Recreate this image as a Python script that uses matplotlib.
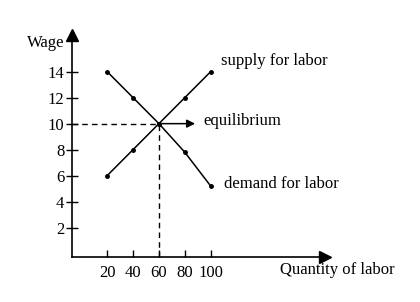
import matplotlib
matplotlib.use("Agg")
import matplotlib.pyplot as plt

plt.rcParams['font.family'] = ['Liberation Serif', 'DejaVu Serif']
plt.rcParams['font.size'] = 12

# labour market data
quantity = [20, 40, 60, 80, 100]
supply = [6, 8, 10, 12, 14]
demand = [14, 12, 10, 7.8, 5.2]
eq_q, eq_w = 60, 10
y_ticks = [2, 4, 6, 8, 10, 12, 14]

fig = plt.figure(figsize=(4.2, 3.02), dpi=100)
ax = fig.add_axes([72/420, 45/302, 253/420, 222/302])
ax.set_xlim(-7, 188)
ax.set_ylim(-0.23, 16.8)

for s in ['top', 'right']:
    ax.spines[s].set_visible(False)
for s in ['left', 'bottom']:
    ax.spines[s].set_linewidth(1.2)

# arrow heads on the axes
ax.plot(1, 0, ">k", transform=ax.transAxes, clip_on=False, markersize=8)
ax.plot(0, 1, "^k", transform=ax.transAxes, clip_on=False, markersize=8)

ax.set_xticks(quantity)
ax.set_yticks(y_ticks)
ax.tick_params(axis='x', direction='in', length=5, width=1, pad=6)
ax.tick_params(axis='y', direction='inout', length=8, width=1, pad=1.5)

# curves
ax.plot(quantity, supply, 'k-', lw=1.1, marker='o', markersize=2.5)
ax.plot(quantity, demand, 'k-', lw=1.1, marker='o', markersize=2.5)

# equilibrium guides
ax.plot([-7, eq_q], [eq_w, eq_w], 'k--', lw=1, dashes=(4, 3))
ax.plot([eq_q, eq_q], [-0.23, eq_w], 'k--', lw=1, dashes=(4, 3))
ax.annotate("", xy=(90, eq_w), xytext=(eq_q, eq_w),
            arrowprops=dict(arrowstyle='-|>', color='k', lw=1.1, mutation_scale=12))

ax.text(94, 10.2, "equilibrium", va='center', ha='left')
ax.text(108, 14.8, "supply for labor", va='center', ha='left')
ax.text(110, 5.4, "demand for labor", va='center', ha='left')
ax.text(-13, 16.2, "Wage", va='center', ha='right')
ax.text(1.277, -0.06, "Quantity of labor", transform=ax.transAxes, ha='right', va='center')

fig.savefig("out.png", dpi=100)
